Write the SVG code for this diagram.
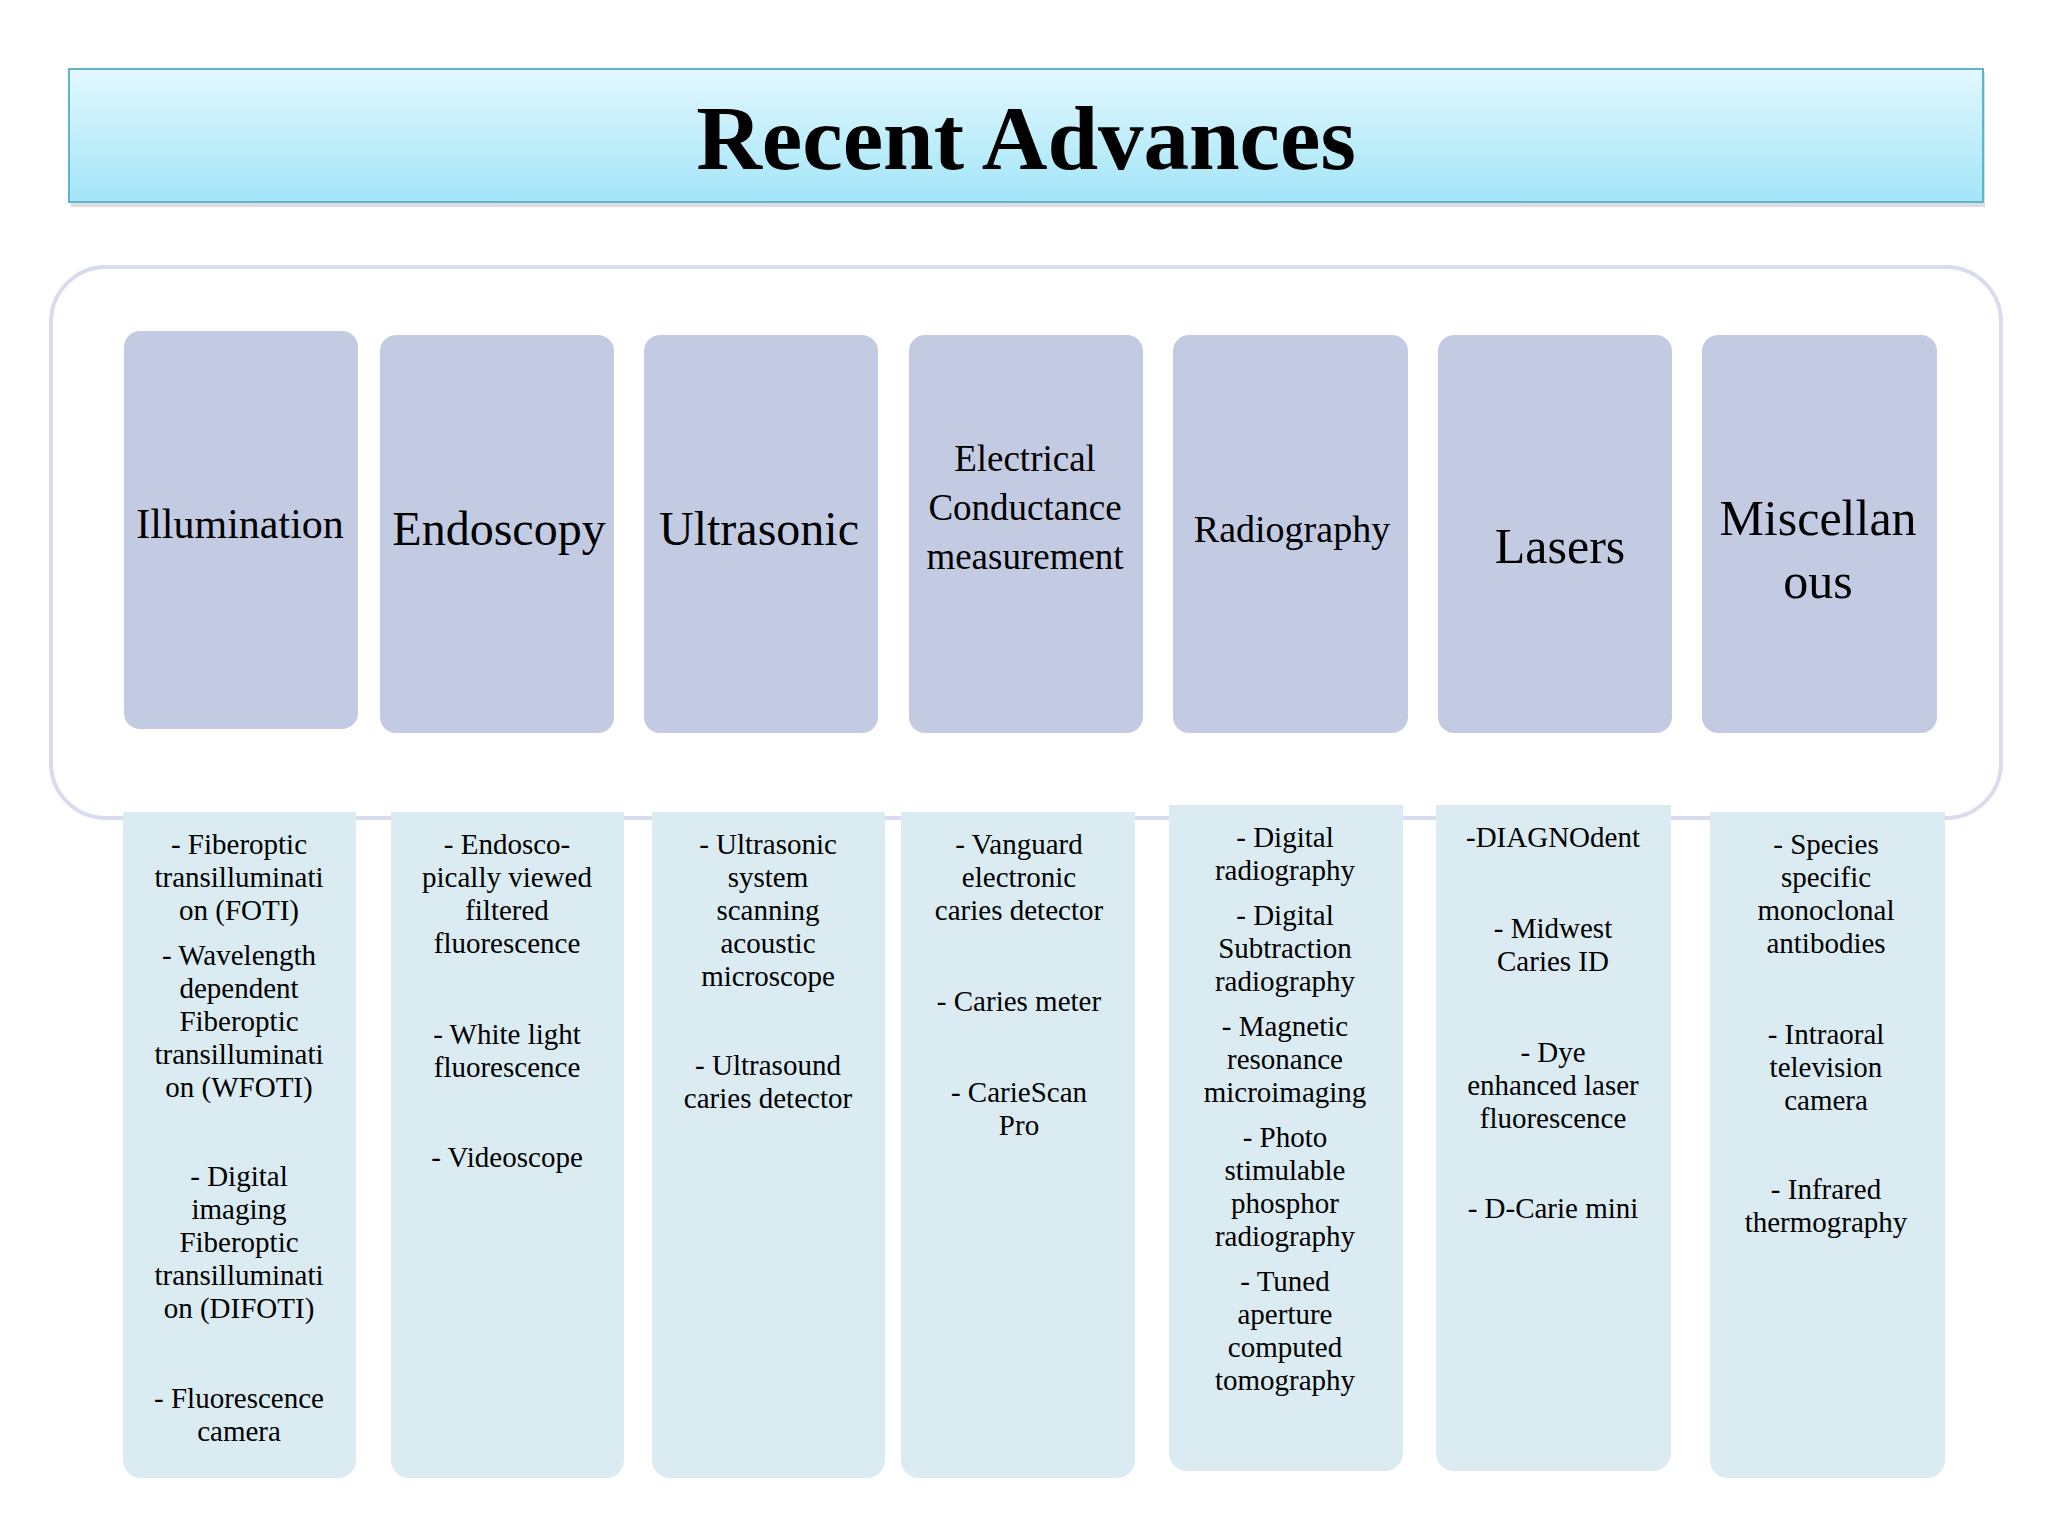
<svg xmlns="http://www.w3.org/2000/svg" width="2048" height="1536" viewBox="0 0 2048 1536">
<defs>
<linearGradient id="tg" x1="0" y1="0" x2="0" y2="1"><stop offset="0" stop-color="#e2f8fe"/><stop offset="1" stop-color="#a3e5f8"/></linearGradient>
<style>
.t{font-family:"Liberation Serif","Times New Roman",serif;fill:#000;text-anchor:middle}
.h{fill:#c3cbe3}
.b{fill:#daebf2}
.s{font-size:29px}
</style>
</defs>
<rect width="2048" height="1536" fill="#fff"/>
<g id="title">
<rect x="71" y="73" width="1914" height="134" fill="#c8c8c8" opacity="0.6"/>
<rect x="69" y="69" width="1914" height="133" fill="url(#tg)" stroke="#5fb3cb" stroke-width="2"/>
<text class="t" x="1026" y="169" font-size="91" font-weight="bold">Recent Advances</text>
</g>
<g id="container">
<rect x="51" y="267" width="1950" height="551" rx="55" fill="#fff" stroke="#d9dcef" stroke-width="4"/>
</g>
<g id="headers" class="t">
<g id="h1"><rect class="h" x="124" y="331" width="234" height="398" rx="16"/><text class="t" x="240" y="538" font-size="42">Illumination</text></g>
<g id="h2"><rect class="h" x="380" y="335" width="234" height="398" rx="16"/><text class="t" x="499" y="545" font-size="48">Endoscopy</text></g>
<g id="h3"><rect class="h" x="644" y="335" width="234" height="398" rx="16"/><text class="t" x="759" y="545" font-size="48">Ultrasonic</text></g>
<g id="h4"><rect class="h" x="909" y="335" width="234" height="398" rx="16"/><text class="t" x="1025" font-size="37"><tspan x="1025" y="471">Electrical</tspan><tspan x="1025" y="520">Conductance</tspan><tspan x="1025" y="569">measurement</tspan></text></g>
<g id="h5"><rect class="h" x="1173" y="335" width="235" height="398" rx="16"/><text class="t" x="1292" y="542" font-size="38">Radiography</text></g>
<g id="h6"><rect class="h" x="1438" y="335" width="234" height="398" rx="16"/><text class="t" x="1560" y="563" font-size="50">Lasers</text></g>
<g id="h7"><rect class="h" x="1702" y="335" width="235" height="398" rx="16"/><text class="t" font-size="50"><tspan x="1818" y="535">Miscellan</tspan><tspan x="1818" y="598">ous</tspan></text></g>
</g>
<g id="lists">
<g id="l1"><path class="b" d="M123 812H356V1460a18 18 0 0 1-18 18H141a18 18 0 0 1-18-18Z"/>
<text class="t s"><tspan x="239" y="854">- Fiberoptic</tspan><tspan x="239" y="887">transilluminati</tspan><tspan x="239" y="920">on (FOTI)</tspan><tspan x="239" y="965">- Wavelength</tspan><tspan x="239" y="998">dependent</tspan><tspan x="239" y="1031">Fiberoptic</tspan><tspan x="239" y="1064">transilluminati</tspan><tspan x="239" y="1097">on (WFOTI)</tspan><tspan x="239" y="1186">- Digital</tspan><tspan x="239" y="1219">imaging</tspan><tspan x="239" y="1252">Fiberoptic</tspan><tspan x="239" y="1285">transilluminati</tspan><tspan x="239" y="1318">on (DIFOTI)</tspan><tspan x="239" y="1408">- Fluorescence</tspan><tspan x="239" y="1441">camera</tspan></text></g>
<g id="l2"><path class="b" d="M391 812H624V1460a18 18 0 0 1-18 18H409a18 18 0 0 1-18-18Z"/>
<text class="t s"><tspan x="507" y="854">- Endosco-</tspan><tspan x="507" y="887">pically viewed</tspan><tspan x="507" y="920">filtered</tspan><tspan x="507" y="953">fluorescence</tspan><tspan x="507" y="1044">- White light</tspan><tspan x="507" y="1077">fluorescence</tspan><tspan x="507" y="1167">- Videoscope</tspan></text></g>
<g id="l3"><path class="b" d="M652 812H885V1460a18 18 0 0 1-18 18H670a18 18 0 0 1-18-18Z"/>
<text class="t s"><tspan x="768" y="854">- Ultrasonic</tspan><tspan x="768" y="887">system</tspan><tspan x="768" y="920">scanning</tspan><tspan x="768" y="953">acoustic</tspan><tspan x="768" y="986">microscope</tspan><tspan x="768" y="1075">- Ultrasound</tspan><tspan x="768" y="1108">caries detector</tspan></text></g>
<g id="l4"><path class="b" d="M901 812H1135V1460a18 18 0 0 1-18 18H919a18 18 0 0 1-18-18Z"/>
<text class="t s"><tspan x="1019" y="854">- Vanguard</tspan><tspan x="1019" y="887">electronic</tspan><tspan x="1019" y="920">caries detector</tspan><tspan x="1019" y="1011">- Caries meter</tspan><tspan x="1019" y="1102">- CarieScan</tspan><tspan x="1019" y="1135">Pro</tspan></text></g>
<g id="l5"><path class="b" d="M1169 805H1403V1453a18 18 0 0 1-18 18H1187a18 18 0 0 1-18-18Z"/>
<text class="t s"><tspan x="1285" y="847">- Digital</tspan><tspan x="1285" y="880">radiography</tspan><tspan x="1285" y="925">- Digital</tspan><tspan x="1285" y="958">Subtraction</tspan><tspan x="1285" y="991">radiography</tspan><tspan x="1285" y="1036">- Magnetic</tspan><tspan x="1285" y="1069">resonance</tspan><tspan x="1285" y="1102">microimaging</tspan><tspan x="1285" y="1147">- Photo</tspan><tspan x="1285" y="1180">stimulable</tspan><tspan x="1285" y="1213">phosphor</tspan><tspan x="1285" y="1246">radiography</tspan><tspan x="1285" y="1291">- Tuned</tspan><tspan x="1285" y="1324">aperture</tspan><tspan x="1285" y="1357">computed</tspan><tspan x="1285" y="1390">tomography</tspan></text></g>
<g id="l6"><path class="b" d="M1436 805H1671V1453a18 18 0 0 1-18 18H1454a18 18 0 0 1-18-18Z"/>
<text class="t s"><tspan x="1553" y="847">-DIAGNOdent</tspan><tspan x="1553" y="938">- Midwest</tspan><tspan x="1553" y="971">Caries ID</tspan><tspan x="1553" y="1062">- Dye</tspan><tspan x="1553" y="1095">enhanced laser</tspan><tspan x="1553" y="1128">fluorescence</tspan><tspan x="1553" y="1218">- D-Carie mini</tspan></text></g>
<g id="l7"><path class="b" d="M1710 812H1945V1460a18 18 0 0 1-18 18H1728a18 18 0 0 1-18-18Z"/>
<text class="t s"><tspan x="1826" y="854">- Species</tspan><tspan x="1826" y="887">specific</tspan><tspan x="1826" y="920">monoclonal</tspan><tspan x="1826" y="953">antibodies</tspan><tspan x="1826" y="1044">- Intraoral</tspan><tspan x="1826" y="1077">television</tspan><tspan x="1826" y="1110">camera</tspan><tspan x="1826" y="1199">- Infrared</tspan><tspan x="1826" y="1232">thermography</tspan></text></g>
</g>
<g id="connectors"/>
</svg>
